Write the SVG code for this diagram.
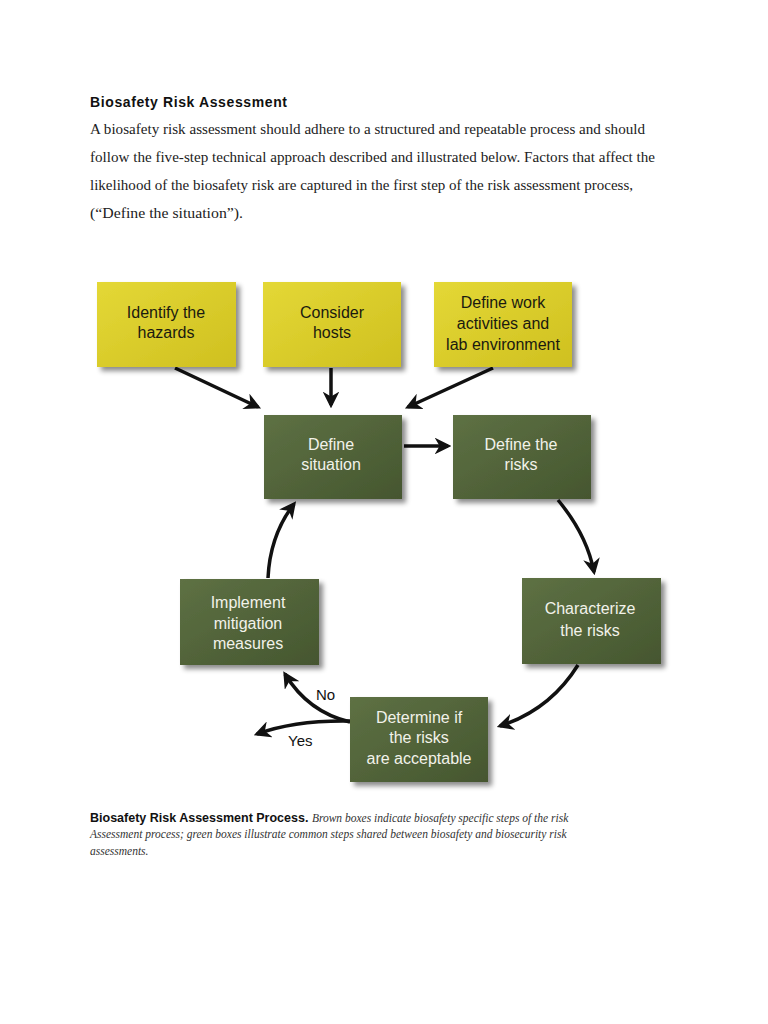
<svg xmlns="http://www.w3.org/2000/svg" width="768" height="1024" viewBox="0 0 768 1024">
<style>
.h{font-family:"Liberation Sans",Arial,sans-serif;font-weight:bold;font-size:14px;fill:#111}
.p{font-family:"Liberation Serif","Times New Roman",serif;font-size:15px;fill:#222}
.yt{font-family:"Liberation Sans",Arial,sans-serif;font-size:16px;fill:#1a1a10;text-anchor:middle}
.gt{font-family:"Liberation Sans",Arial,sans-serif;font-size:16px;fill:#f2f2ea;text-anchor:middle}
.lab{font-family:"Liberation Sans",Arial,sans-serif;font-size:15px;fill:#111}
.cb{font-family:"Liberation Sans",Arial,sans-serif;font-weight:bold;font-size:12.5px;fill:#111}
.ci{font-family:"Liberation Serif","Times New Roman",serif;font-style:italic;font-size:11.5px;fill:#333}
.ybox{fill:url(#yg);filter:url(#sh)}
.gbox{fill:url(#gg);filter:url(#sh)}
.con{fill:none;stroke:#111;stroke-width:3.5;marker-end:url(#ah)}
</style>
<defs>
<linearGradient id="yg" x1="0" y1="0" x2="1" y2="1"><stop offset="0" stop-color="#e4d836"/><stop offset="1" stop-color="#cfc020"/></linearGradient>
<linearGradient id="gg" x1="0" y1="0" x2="1" y2="1"><stop offset="0" stop-color="#5e7144"/><stop offset="1" stop-color="#45562f"/></linearGradient>
<filter id="sh" x="-10%" y="-10%" width="130%" height="130%"><feDropShadow dx="4" dy="4" stdDeviation="2.5" flood-color="#000" flood-opacity="0.45"/></filter>
<marker id="ah" viewBox="0 0 10 10" refX="8" refY="5" markerWidth="4.8" markerHeight="4.8" orient="auto" markerUnits="strokeWidth"><path d="M0,0 L10,5 L0,10 L3,5 Z" fill="#111"/></marker>
</defs>
<rect width="768" height="1024" fill="#fff"/>
<text class="h" x="90" y="107" textLength="197" lengthAdjust="spacing">Biosafety Risk Assessment</text>
<text class="p" x="90" y="134" textLength="555" lengthAdjust="spacingAndGlyphs">A biosafety risk assessment should adhere to a structured and repeatable process and should</text>
<text class="p" x="90" y="162" textLength="565" lengthAdjust="spacingAndGlyphs">follow the five-step technical approach described and illustrated below. Factors that affect the</text>
<text class="p" x="90" y="190" textLength="543" lengthAdjust="spacingAndGlyphs">likelihood of the biosafety risk are captured in the first step of the risk assessment process,</text>
<text class="p" x="90" y="218" textLength="153" lengthAdjust="spacingAndGlyphs">(“Define the situation”).</text>
<g id="connectors">
<path class="con" d="M175,368 L258,407"/>
<path class="con" d="M331,368 L331,405"/>
<path class="con" d="M493,368 L408,407"/>
<path class="con" d="M404,446 L448,446"/>
<path class="con" d="M558,500 Q587,535 594,572"/>
<path class="con" d="M578,665 Q550,710 500,726"/>
<path class="con" d="M350,722 Q308,712 285,674"/>
<path class="con" d="M350,721 Q295,720 257,734"/>
<path class="con" d="M268,578 Q270,535 294,504"/>
</g>
<g id="n1"><rect class="ybox" x="97" y="282" width="139" height="85"/><text class="yt" x="166" y="318">Identify the</text><text class="yt" x="166" y="338">hazards</text></g>
<g id="n2"><rect class="ybox" x="263" y="282" width="138" height="85"/><text class="yt" x="332" y="318">Consider</text><text class="yt" x="332" y="338">hosts</text></g>
<g id="n3"><rect class="ybox" x="434" y="282" width="138" height="85"/><text class="yt" x="503" y="308">Define work</text><text class="yt" x="503" y="329">activities and</text><text class="yt" x="503" y="350">lab environment</text></g>
<g id="n4"><rect class="gbox" x="264" y="415" width="138" height="84"/><text class="gt" x="331" y="450">Define</text><text class="gt" x="331" y="470">situation</text></g>
<g id="n5"><rect class="gbox" x="453" y="415" width="138" height="84"/><text class="gt" x="521" y="450">Define the</text><text class="gt" x="521" y="470">risks</text></g>
<g id="n6"><rect class="gbox" x="522" y="578" width="139" height="86"/><text class="gt" x="590" y="614">Characterize</text><text class="gt" x="590" y="636">the risks</text></g>
<g id="n7"><rect class="gbox" x="350" y="697" width="138" height="85"/><text class="gt" x="419" y="723">Determine if</text><text class="gt" x="419" y="743">the risks</text><text class="gt" x="419" y="764">are acceptable</text></g>
<g id="n8"><rect class="gbox" x="180" y="579" width="139" height="86"/><text class="gt" x="248" y="608">Implement</text><text class="gt" x="248" y="629">mitigation</text><text class="gt" x="248" y="649">measures</text></g>
<text class="lab" x="316" y="700">No</text>
<text class="lab" x="288" y="746">Yes</text>
<text x="90" y="822"><tspan class="cb">Biosafety Risk Assessment Process. </tspan><tspan class="ci">Brown boxes indicate biosafety specific steps of the risk</tspan></text>
<text class="ci" x="90" y="838">Assessment process; green boxes illustrate common steps shared between biosafety and biosecurity risk</text>
<text class="ci" x="90" y="855">assessments.</text>
</svg>
